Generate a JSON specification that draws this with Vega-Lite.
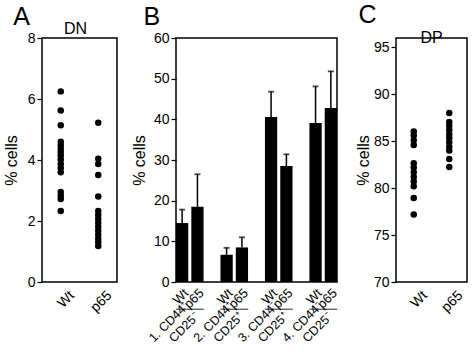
{
  "$schema": "https://vega.github.io/schema/vega-lite/v6.json",
  "background": "white",
  "padding": {"left": 2, "top": 2, "right": 0, "bottom": 0},
  "config": {
    "font": "Liberation Sans",
    "view": {"stroke": "black", "strokeWidth": 1.5},
    "axis": {"domainColor": "black", "tickColor": "black", "labelColor": "black", "titleColor": "black", "labelFontSize": 14, "titleFontSize": 16, "titleFontWeight": "normal", "grid": false, "tickSize": 5, "tickWidth": 1.2},
    "title": {"anchor": "start", "fontSize": 25, "fontWeight": "normal", "frame": "bounds", "color": "black", "offset": -9}
  },
  "bounds": "flush",
  "spacing": 59,
  "hconcat": [
    {
      "width": 75,
      "height": 244,
      "title": {"text": "A", "dx": 10},
      "layer": [
        {
          "data": {"values": [
            {"genotype": "Wt", "pct": 6.25}, {"genotype": "Wt", "pct": 5.62}, {"genotype": "Wt", "pct": 5.14},
            {"genotype": "Wt", "pct": 4.6}, {"genotype": "Wt", "pct": 4.48}, {"genotype": "Wt", "pct": 4.37},
            {"genotype": "Wt", "pct": 4.26}, {"genotype": "Wt", "pct": 4.15}, {"genotype": "Wt", "pct": 4.02},
            {"genotype": "Wt", "pct": 3.87}, {"genotype": "Wt", "pct": 3.74}, {"genotype": "Wt", "pct": 3.6},
            {"genotype": "Wt", "pct": 2.95}, {"genotype": "Wt", "pct": 2.83}, {"genotype": "Wt", "pct": 2.72},
            {"genotype": "Wt", "pct": 2.33},
            {"genotype": "p65", "pct": 5.22}, {"genotype": "p65", "pct": 4.04}, {"genotype": "p65", "pct": 3.87},
            {"genotype": "p65", "pct": 3.51}, {"genotype": "p65", "pct": 2.8}, {"genotype": "p65", "pct": 2.33},
            {"genotype": "p65", "pct": 2.2}, {"genotype": "p65", "pct": 2.07}, {"genotype": "p65", "pct": 1.94},
            {"genotype": "p65", "pct": 1.81}, {"genotype": "p65", "pct": 1.68}, {"genotype": "p65", "pct": 1.55},
            {"genotype": "p65", "pct": 1.42}, {"genotype": "p65", "pct": 1.3}, {"genotype": "p65", "pct": 1.18}
          ]},
          "mark": {"type": "circle", "size": 42, "color": "black", "opacity": 1},
          "encoding": {
            "x": {"field": "genotype", "type": "nominal", "scale": {"type": "point", "domain": ["Wt", "p65"], "padding": 0.5},
                  "axis": {"title": null, "labelAngle": 315, "ticks": false, "domain": false, "labelPadding": 6, "labelOffset": 6, "labelFontSize": 14}},
            "y": {"field": "pct", "type": "quantitative", "scale": {"domain": [0, 8]},
                  "axis": {"title": "% cells", "values": [0, 2, 4, 6, 8], "titlePadding": 8, "domain": false}}
          }
        },
        {
          "data": {"values": [{"name": "DN"}]},
          "mark": {"type": "text", "fontSize": 16, "baseline": "bottom", "dy": -1, "dx": -4, "color": "black"},
          "encoding": {"text": {"field": "name"}, "y": {"datum": 8}}
        }
      ]
    },
    {
      "width": 161,
      "height": 244,
      "title": {"text": "B", "dx": 12, "offset": 1},
      "layer": [
        {
          "data": {"name": "bars", "values": [
            {"group": "1", "genotype": "Wt", "mean": 14.5, "upper": 17.8},
            {"group": "1", "genotype": "p65", "mean": 18.5, "upper": 26.5},
            {"group": "2", "genotype": "Wt", "mean": 6.7, "upper": 8.4},
            {"group": "2", "genotype": "p65", "mean": 8.5, "upper": 11.0},
            {"group": "3", "genotype": "Wt", "mean": 40.6, "upper": 46.8},
            {"group": "3", "genotype": "p65", "mean": 28.5, "upper": 31.4},
            {"group": "4", "genotype": "Wt", "mean": 39.1, "upper": 48.1},
            {"group": "4", "genotype": "p65", "mean": 42.8, "upper": 51.8}
          ]},
          "layer": [
            {
              "mark": {"type": "bar", "color": "black"},
              "encoding": {
                "x": {"field": "group", "type": "nominal", "scale": {"domain": ["1", "2", "3", "4"], "paddingInner": 0.38, "paddingOuter": 0}, "axis": null},
                "xOffset": {"field": "genotype", "type": "nominal", "scale": {"domain": ["Wt", "p65"], "paddingInner": 0.2, "paddingOuter": 0}},
                "y": {"field": "mean", "type": "quantitative", "scale": {"domain": [0, 60]},
                      "axis": {"title": "% cells", "values": [0, 10, 20, 30, 40, 50, 60], "titlePadding": 6, "domain": false}}
              }
            },
            {
              "mark": {"type": "rule", "strokeWidth": 1.5, "color": "black"},
              "encoding": {
                "x": {"field": "group", "type": "nominal"},
                "xOffset": {"field": "genotype", "type": "nominal"},
                "y": {"field": "mean", "type": "quantitative"},
                "y2": {"field": "upper"}
              }
            },
            {
              "mark": {"type": "tick", "thickness": 1.8, "size": 6, "color": "black", "orient": "horizontal"},
              "encoding": {
                "x": {"field": "group", "type": "nominal"},
                "xOffset": {"field": "genotype", "type": "nominal"},
                "y": {"field": "upper", "type": "quantitative"}
              }
            },
            {
              "mark": {"type": "text", "align": "right", "baseline": "top", "fontSize": 13, "color": "black"},
              "encoding": {
                "x": {"field": "group", "type": "nominal"},
                "xOffset": {"field": "genotype", "type": "nominal"},
                "y": {"datum": -1.2},
                "angle": {"value": 315},
                "text": {"field": "genotype"}
              }
            }
          ]
        },
        {
          "data": {"name": "groups", "values": [
            {"group": "1", "label": "1. CD44⁺\nCD25⁻"},
            {"group": "2", "label": "2. CD44⁺\nCD25⁺"},
            {"group": "3", "label": "3. CD44⁻\nCD25⁺"},
            {"group": "4", "label": "4. CD44⁻\nCD25⁻"}
          ]},
          "layer": [
            {
              "mark": {"type": "tick", "thickness": 1.2, "size": 28, "color": "black", "orient": "horizontal"},
              "encoding": {
                "x": {"field": "group", "type": "nominal"},
                "y": {"datum": -6.7}
              }
            },
            {
              "mark": {"type": "text", "align": "right", "baseline": "top", "lineBreak": "\n", "fontSize": 12.5, "color": "black"},
              "encoding": {
                "x": {"field": "group", "type": "nominal"},
                "xOffset": {"datum": "Wt"},
                "y": {"datum": -4.5},
                "angle": {"value": 315},
                "text": {"field": "label"}
              }
            }
          ]
        }
      ]
    },
    {
      "width": 71,
      "height": 244,
      "title": {"text": "C", "dx": 3, "offset": 2},
      "layer": [
        {
          "data": {"values": [
            {"genotype": "Wt", "pct": 86.05}, {"genotype": "Wt", "pct": 85.6}, {"genotype": "Wt", "pct": 85.1},
            {"genotype": "Wt", "pct": 84.6}, {"genotype": "Wt", "pct": 82.65}, {"genotype": "Wt", "pct": 82.2},
            {"genotype": "Wt", "pct": 81.7}, {"genotype": "Wt", "pct": 81.2}, {"genotype": "Wt", "pct": 80.7},
            {"genotype": "Wt", "pct": 80.2}, {"genotype": "Wt", "pct": 78.95}, {"genotype": "Wt", "pct": 77.2},
            {"genotype": "p65", "pct": 88.0}, {"genotype": "p65", "pct": 87.05}, {"genotype": "p65", "pct": 86.65},
            {"genotype": "p65", "pct": 86.2}, {"genotype": "p65", "pct": 85.75}, {"genotype": "p65", "pct": 85.35},
            {"genotype": "p65", "pct": 84.9}, {"genotype": "p65", "pct": 84.4}, {"genotype": "p65", "pct": 84.0},
            {"genotype": "p65", "pct": 83.1}, {"genotype": "p65", "pct": 82.25}
          ]},
          "mark": {"type": "circle", "size": 42, "color": "black", "opacity": 1},
          "encoding": {
            "x": {"field": "genotype", "type": "nominal", "scale": {"type": "point", "domain": ["Wt", "p65"], "padding": 0.5},
                  "axis": {"title": null, "labelAngle": 315, "ticks": false, "domain": false, "labelPadding": 6, "labelOffset": 6, "labelFontSize": 14}},
            "y": {"field": "pct", "type": "quantitative", "scale": {"domain": [70, 95]},
                  "axis": {"title": "% cells", "values": [70, 75, 80, 85, 90, 95], "titlePadding": 2, "domain": false}}
          }
        },
        {
          "data": {"values": [{"name": "DP"}]},
          "mark": {"type": "text", "fontSize": 16, "baseline": "bottom", "dy": -1, "color": "black"},
          "encoding": {"text": {"field": "name"}, "y": {"datum": 95}}
        }
      ]
    }
  ]
}
